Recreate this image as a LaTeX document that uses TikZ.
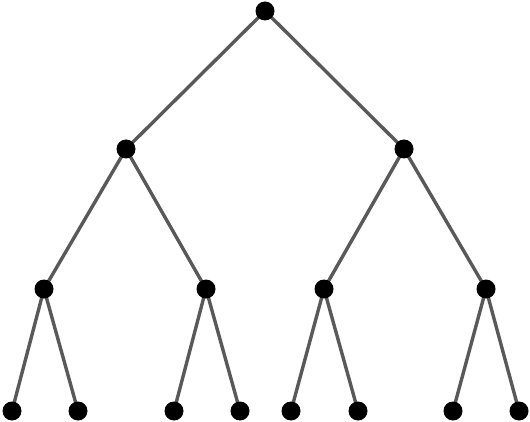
\documentclass[tikz,border=0pt]{standalone}
\usetikzlibrary{backgrounds}
\begin{document}
\begin{tikzpicture}[x=1pt,y=-1pt,
  dot/.style={circle,fill=black,inner sep=0pt,minimum size=19pt},
  edge/.style={draw=black!65,line width=3.4pt}]
\useasboundingbox (0,0) rectangle (530,422);
\node[dot] (r) at (265,11) {};
\node[dot] (a) at (126,149) {};
\node[dot] (b) at (404,149) {};
\node[dot] (aa) at (44,289) {};
\node[dot] (ab) at (206,289) {};
\node[dot] (ba) at (324,289) {};
\node[dot] (bb) at (486,289) {};
\node[dot] (l1) at (12,411) {};
\node[dot] (l2) at (78,411) {};
\node[dot] (l3) at (174,411) {};
\node[dot] (l4) at (240,411) {};
\node[dot] (l5) at (291,411) {};
\node[dot] (l6) at (358,411) {};
\node[dot] (l7) at (453,411) {};
\node[dot] (l8) at (519,411) {};
\begin{pgfonlayer}{background}
\foreach \p/\c in {r/a,r/b,a/aa,a/ab,b/ba,b/bb,aa/l1,aa/l2,ab/l3,ab/l4,ba/l5,ba/l6,bb/l7,bb/l8}
  \draw[edge] (\p.center) -- (\c.center);
\end{pgfonlayer}
\end{tikzpicture}
\end{document}
